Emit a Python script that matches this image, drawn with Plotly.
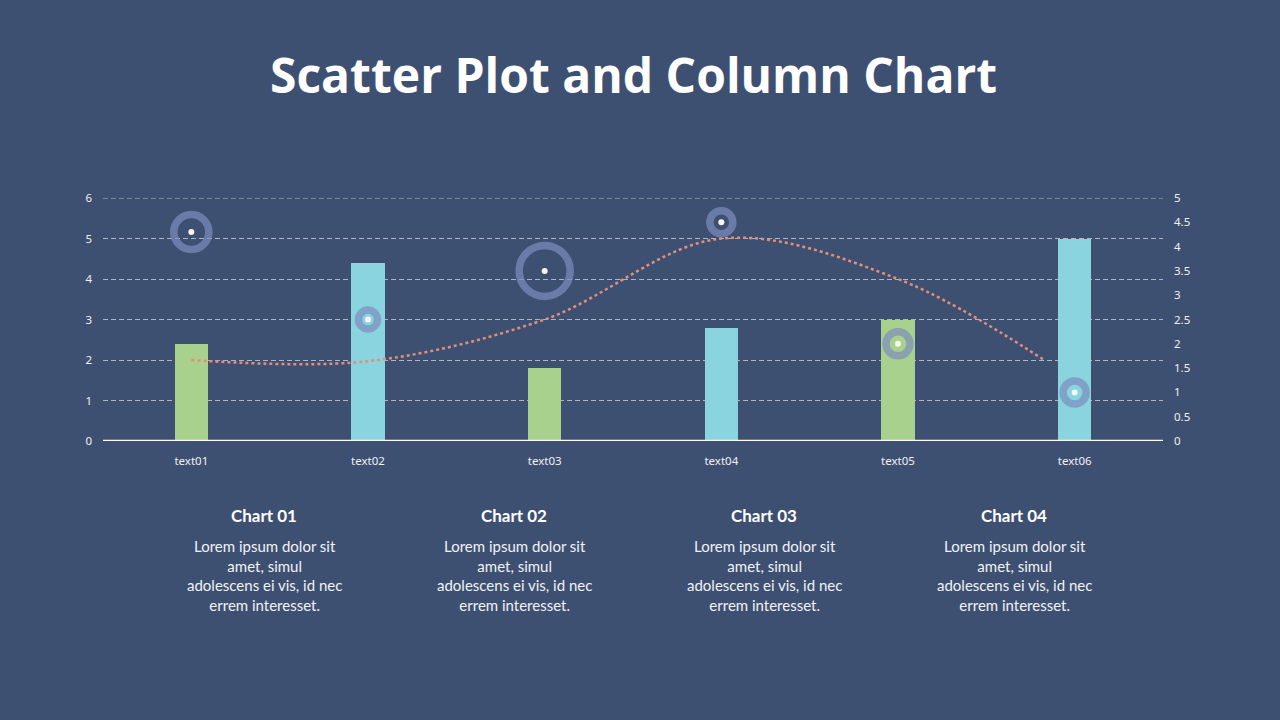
import plotly.graph_objects as go

# data
categories = ["text01", "text02", "text03", "text04", "text05", "text06"]
column_values = [2.4, 4.4, 1.8, 2.8, 3.0, 5.0]
column_colors = ["#A9D18E", "#8AD4E0", "#A9D18E", "#8AD4E0", "#A9D18E", "#8AD4E0"]
scatter_values = [4.3, 2.5, 3.5, 4.5, 2.0, 1.0]
bubble_sizes = [35, 19, 51, 23, 24, 23]
trend_x = [0, 1, 2, 3, 4, 4.82]
trend_values = [2.0, 1.97, 3.0, 5.0, 4.0, 2.02]
left_ticks = [0, 1, 2, 3, 4, 5, 6]
right_ticks = [0, 0.5, 1, 1.5, 2, 2.5, 3, 3.5, 4, 4.5, 5]
captions = ["Chart 01", "Chart 02", "Chart 03", "Chart 04"]
caption_text = "Lorem ipsum dolor sit<br>amet, simul<br>adolescens ei vis, id nec<br>errem interesset."

bg = "#3E5071"
grid_color = "#AEB4C2"
positions = list(range(len(categories)))

fig = go.Figure()

fig.add_trace(go.Bar(
    x=positions, y=column_values, width=0.19,
    marker=dict(color=column_colors, line=dict(width=0)),
    yaxis="y"
))

fig.add_trace(go.Scatter(
    x=trend_x, y=trend_values, mode="lines",
    line=dict(color="#E0907A", width=2.5, dash="dot", shape="spline", smoothing=1.0),
    yaxis="y"
))

# ring bubbles
fig.add_trace(go.Scatter(
    x=positions, y=scatter_values, mode="markers",
    marker=dict(size=bubble_sizes, color="rgba(0,0,0,0)",
                line=dict(color="#7E8EBF", width=7.5)),
    yaxis="y2"
))
# centre dots
fig.add_trace(go.Scatter(
    x=positions, y=scatter_values, mode="markers",
    marker=dict(size=6, color="#F2F8EC", line=dict(width=0)),
    yaxis="y2"
))

tick_font = dict(family="Noto Sans", size=11.5, color="#EEF1F5")

fig.update_layout(
    width=1280, height=720,
    paper_bgcolor=bg, plot_bgcolor=bg,
    showlegend=False,
    margin=dict(l=103, r=117, t=198, b=279),
    bargap=0,
    xaxis=dict(
        range=[-0.5, 5.5], tickvals=positions, ticktext=categories,
        showgrid=False, zeroline=False, showline=False, ticks="",
        ticklabelstandoff=11,
        tickfont=tick_font
    ),
    yaxis=dict(
        range=[0, 6], tickvals=left_ticks,
        showgrid=True, gridcolor=grid_color, griddash="5px,3px", gridwidth=1,
        zeroline=False, showline=False, ticks="",
        ticklabelstandoff=10,
        tickfont=tick_font
    ),
    yaxis2=dict(
        range=[0, 5], tickvals=right_ticks, overlaying="y", side="right",
        showgrid=False, zeroline=False, showline=False, ticks="",
        ticklabelstandoff=10,
        tickfont=tick_font
    ),
)

# top gridline (plotly skips the one on the range edge)
fig.add_shape(type="line", xref="paper", yref="y", x0=0, x1=1, y0=6, y1=6,
              line=dict(color=grid_color, width=1, dash="5px,3px"), layer="below")
# baseline
fig.add_shape(type="line", xref="paper", yref="y", x0=0, x1=1, y0=0, y1=0,
              line=dict(color="white", width=2.5))

fig.add_annotation(
    text="<b>Scatter Plot and Column Chart</b>", xref="paper", yref="paper",
    x=0.5, y=1, yshift=124, xanchor="center", yanchor="middle", showarrow=False,
    font=dict(family="Open Sans", size=48, color="white")
)

caption_x = [264, 514, 764, 1014]
for cx, title in zip(caption_x, captions):
    xp = (cx - 103) / (1280 - 103 - 117)
    fig.add_annotation(
        text="<b>" + title + "</b>", xref="paper", yref="paper",
        x=xp, y=0, yshift=-74, xanchor="center", yanchor="middle", showarrow=False,
        font=dict(family="Lato", size=17, color="white")
    )
    fig.add_annotation(
        text=caption_text, xref="paper", yref="paper", align="center",
        x=xp, y=0, yshift=-134, xanchor="center", yanchor="middle", showarrow=False,
        font=dict(family="Lato", size=15, color="#F0F2F6")
    )

fig.write_html("out.html", config={"displayModeBar": False},
               post_script="document.body.style.margin='0';")
